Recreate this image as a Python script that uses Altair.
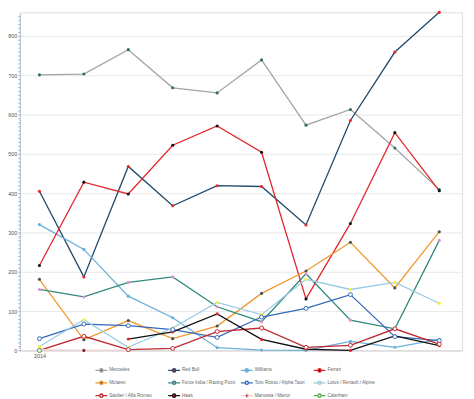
import altair as alt
import pandas as pd

years = list(range(2014, 2024))
teams = ["Mercedes", "Red Bull", "Williams", "Ferrari", "Mclaren",
         "Force India / Racing Point", "Toro Rosso / Alpha Tauri",
         "Lotus / Renault / Alpine", "Sauber / Alfa Romeo", "Haas",
         "Marussia / Manor", "Caterham"]

mercedes = [701, 703, 765, 668, 655, 739, 573, 613, 515, 409]
red_bull = [405, 187, 468, 368, 419, 417, 319, 585, 759, 860]
williams = [320, 257, 138, 83, 7, 1, 0, 23, 8, 28]
ferrari = [216, 428, 398, 522, 571, 504, 131, 323, 554, 406]
mclaren = [181, 27, 76, 30, 62, 145, 202, 275, 159, 302]
force_india = [155, 136, 173, 187, 111, 73, 195, 77, 55, 280]
toro_rosso = [30, 67, 63, 53, 33, 85, 107, 142, 35, 25]
lotus = [10, 78, 8, 57, 122, 91, 181, 155, 173, 120]
sauber = [0, 36, 2, 5, 48, 57, 8, 13, 55, 16]
haas = [None, None, 29, 47, 93, 28, 3, 0, 37, 12]
marussia = [2, 0, 1, None, None, None, None, None, None, None]
caterham = [0, None, None, None, None, None, None, None, None, None]

series = [mercedes, red_bull, williams, ferrari, mclaren, force_india,
          toro_rosso, lotus, sauber, haas, marussia, caterham]

line_colors = ["#a3a3a3", "#21496b", "#6cb0d8", "#e3262b", "#f0982e", "#2f8a7c",
               "#3569bd", "#9acbe6", "#c02a30", "#111111", "#f2d0d0", "#56b045"]
marker_fills = ["#2d6e66", "#e8242c", "#6cb0d8", "#111111", "#3c5656", "#e68bd3",
                "#ffffff", "#f4f03c", "#ffffff", "#e8242c", "#8a1d2c", "#ffffff"]
open_teams = ["Toro Rosso / Alpha Tauri", "Sauber / Alfa Romeo", "Caterham"]

rows = []
for t, vals in zip(teams, series):
    for y, v in zip(years, vals):
        if v is not None:
            rows.append({"team": t, "year": y, "points": v})
df = pd.DataFrame(rows)

sym = "M-1.5,0H-0.4M0.4,0H1.5M0.4,0A0.4,0.4,0,1,1,-0.4,0A0.4,0.4,0,1,1,0.4,0Z"
legend = alt.Legend(orient="none", legendX=78, legendY=359, direction="horizontal",
                    columns=4, title=None, symbolType=sym, symbolSize=64,
                    symbolStrokeWidth=1.4, labelFontSize=4.7, labelColor="#666666",
                    labelFont="Liberation Sans", rowPadding=3, columnPadding=3,
                    labelOffset=3, padding=0, gridAlign="all")

x = alt.X("year:Q", scale=alt.Scale(domain=[2013.558, 2023.513], nice=False, zero=False),
          axis=alt.Axis(values=[2014], format="d", title=None, ticks=False,
                        labelFontSize=5.5, labelColor="#555555", labelPadding=3,
                        domainColor="#d4d4d4", grid=False))
y = alt.Y("points:Q", scale=alt.Scale(domain=[0, 860], nice=False, zero=True),
          axis=alt.Axis(values=list(range(0, 851, 10)), title=None,
                        labelExpr="datum.value % 100 === 0 ? datum.label : ''",
                        labelFontSize=5.5, labelColor="#555555", labelPadding=1,
                        tickSize=2, tickColor="#9db3cf", domainColor="#7f9fc4",
                        domainDash=[1, 1], gridColor="#e8e8e8",
                        gridOpacity={"condition": {"test": "datum.value % 100 === 0", "value": 1}, "value": 0}))

stroke_scale = alt.Scale(domain=teams, range=line_colors)
fill_scale = alt.Scale(domain=teams, range=marker_fills)

base = alt.Chart(df)
lines = base.mark_line(strokeWidth=1.3).encode(
    x=x, y=y,
    stroke=alt.Stroke("team:N", scale=stroke_scale, legend=legend, sort=teams),
)
dots = base.transform_filter(
    alt.FieldOneOfPredicate(field="team", oneOf=[t for t in teams if t not in open_teams])
).mark_circle(size=10, opacity=1).encode(
    x=x, y=y,
    fill=alt.Fill("team:N", scale=fill_scale, legend=legend, sort=teams),
)
rings = base.transform_filter(
    alt.FieldOneOfPredicate(field="team", oneOf=open_teams)
).mark_point(shape="circle", size=16, filled=False, fill="#ffffff", fillOpacity=1,
             strokeWidth=1, opacity=1).encode(
    x=x, y=y,
    stroke=alt.Stroke("team:N", scale=stroke_scale, legend=legend, sort=teams),
)

chart = alt.layer(lines, dots, rings).properties(
    width=450, height=344,
    autosize=alt.AutoSizeParams(type="none"),
    padding={"left": 12, "top": 1, "right": 4, "bottom": 45},
).configure_view(stroke=None).configure(font="Liberation Sans")

chart.save("out.html", embed_options={"renderer": "svg", "actions": False})
